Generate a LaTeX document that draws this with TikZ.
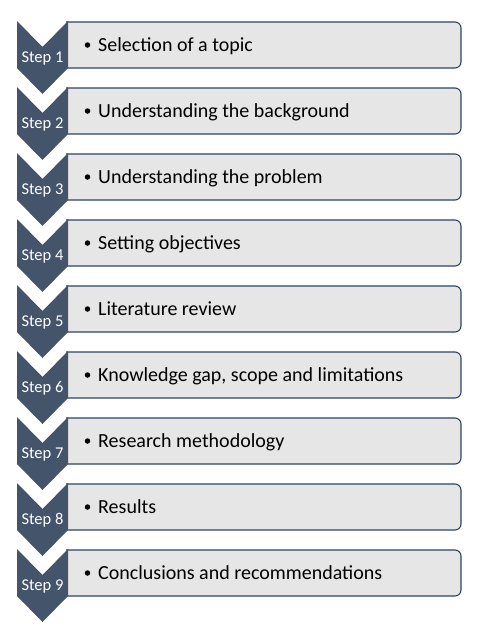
\documentclass[tikz,border=0pt]{standalone}
\usepackage{fontspec}
\setmainfont{Carlito}

\definecolor{chevfill}{HTML}{44546A}
\definecolor{boxfill}{HTML}{E7E6E6}
\definecolor{boxline}{HTML}{2E4466}

\tikzset{
  itembox/.style={draw=boxline,fill=boxfill,line width=1.1pt},
  chevron/.style={fill=chevfill,draw=none},
  steplabel/.style={text=white,inner sep=0pt,font=\fontsize{16.5}{18}\selectfont},
  bulletdot/.style={circle,fill=black,inner sep=0pt,minimum size=5.5pt},
  itemtext/.style={anchor=base west,inner sep=0pt,font=\fontsize{20}{24}\selectfont}
}

\begin{document}
\begin{tikzpicture}[x=1pt,y=-1pt]
    \useasboundingbox (0,0) rectangle (482,640);
    \foreach \n/\txt in {1/Selection of a topic,
                         2/Understanding the background,
                         3/Understanding the problem,
                         4/Setting objectives,
                         5/Literature review,
                         6/{Knowledge gap, scope and limitations},
                         7/Research methodology,
                         8/Results,
                         9/Conclusions and recommendations}{
      \pgfmathsetmacro{\t}{21+66*(\n-1)}
      % box, rounded on the right only
      \draw[itembox] (66,\t+1) [rounded corners=6pt] -- (461,\t+1) -- (461,\t+47) [sharp corners] -- (66,\t+47);
      % chevron pointing down
      \fill[chevron] (17,\t) -- (42.5,\t+26) -- (68,\t) -- (68,\t+47) -- (42.5,\t+73) -- (17,\t+47) -- cycle;
      \node[steplabel] (step\n) at (42.5,\t+37) {Step \n};
      \node[bulletdot] (dot\n) at (87.5,\t+24) {};
      \node[itemtext] (item\n) at (98,\t+30.5) {\txt};
    }
\end{tikzpicture}
\end{document}
